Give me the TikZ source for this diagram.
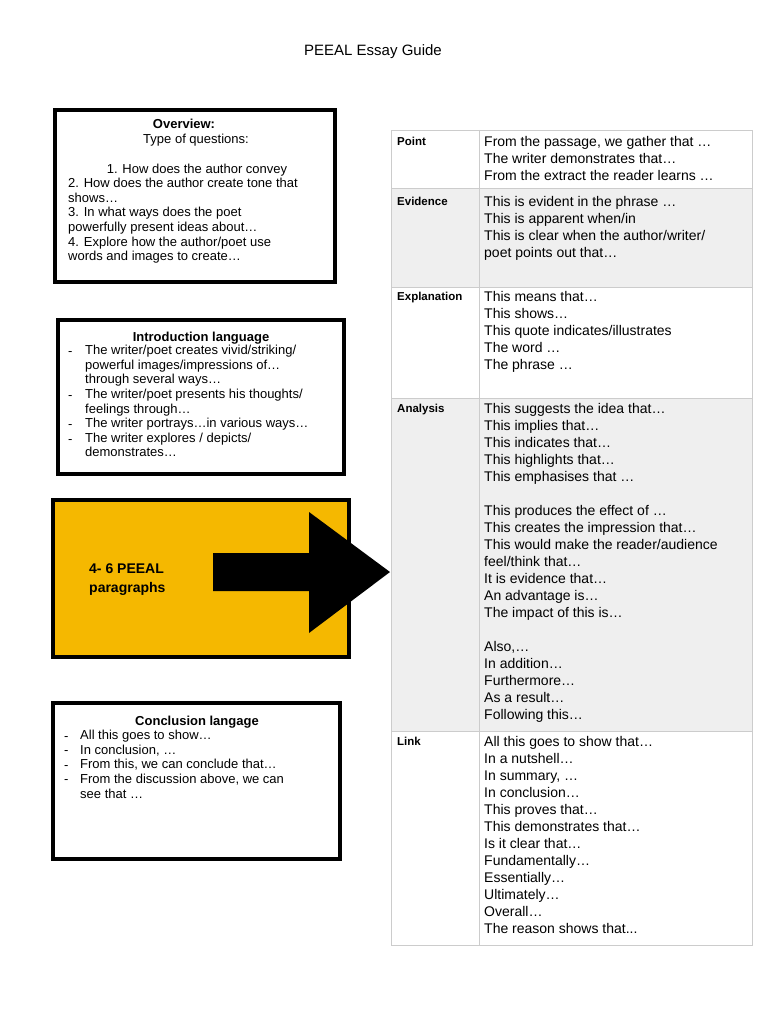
\documentclass[tikz,border=0pt]{standalone}
\usepackage{fontspec}
\setmainfont{Liberation Sans}
\definecolor{cellgray}{HTML}{EFEFEF}
\definecolor{rule}{HTML}{CCCCCC}
\definecolor{gold}{HTML}{F5B800}
\begin{document}
\begin{tikzpicture}[x=1pt,y=-1pt,
  cell/.style={anchor=north west,inner sep=0pt,align=left,font=\fontsize{14}{17}\selectfont},
  lab/.style={anchor=north west,inner sep=0pt,font=\fontsize{11.5}{14}\selectfont\bfseries},
  lt/.style={anchor=north west,inner sep=0pt,align=left,font=\fontsize{13}{14.6}\selectfont},
  ln/.style={anchor=base west,inner sep=0pt,font=\fontsize{13}{14.6}\selectfont},
  ttl/.style={anchor=base,inner sep=0pt,font=\fontsize{13}{14.6}\selectfont\bfseries},
  frame/.style={draw=black,line width=3.5pt}]
\useasboundingbox (0,0) rectangle (768,1024);
\node[anchor=base,font=\fontsize{15}{18}\selectfont] (title) at (373,56) {PEEAL Essay Guide};
% table
\fill[cellgray] (391,188) rectangle (752,287);
\fill[cellgray] (391,398) rectangle (752,731);
\draw[rule,line width=0.8pt] (391,130) rectangle (752,945);
\draw[rule,line width=0.8pt] (479,130) -- (479,945);
\foreach \yy in {188,287,398,731} \draw[rule,line width=0.8pt] (391,\yy) -- (752,\yy);
\node[lab] (lp) at (397,137) {Point};
\node[lab] (le) at (397,197) {Evidence};
\node[lab] (lx) at (397,292) {Explanation};
\node[lab] (la) at (397,404) {Analysis};
\node[lab] (ll) at (397,737) {Link};
\node[cell] (cp) at (484,136) {From the passage, we gather that …\\The writer demonstrates that…\\From the extract the reader learns …};
\node[cell] (ce) at (484,196) {This is evident in the phrase …\\This is apparent when/in\\This is clear when the author/writer/\\poet points out that…};
\node[cell] (cx) at (484,291) {This means that…\\This shows…\\This quote indicates/illustrates\\The word …\\The phrase …};
\node[cell] (ca) at (484,403) {This suggests the idea that…\\This implies that…\\This indicates that…\\This highlights that…\\This emphasises that …\\\mbox{}\\This produces the effect of …\\This creates the impression that…\\This would make the reader/audience\\feel/think that…\\It is evidence that…\\An advantage is…\\The impact of this is…\\\mbox{}\\Also,…\\In addition…\\Furthermore…\\As a result…\\Following this…};
\node[cell] (cl) at (484,736) {All this goes to show that…\\In a nutshell…\\In summary, …\\In conclusion…\\This proves that…\\This demonstrates that…\\Is it clear that…\\Fundamentally…\\Essentially…\\Ultimately…\\Overall…\\The reason shows that...};
% overview
\draw[frame,line width=4.5pt] (55,110) rectangle (335,282);
\node[ttl] (ot) at (184,129) {Overview:};
\node[ln,anchor=base] (o1) at (196,144) {Type of questions:};
\node[ln,anchor=base] (o2) at (197,174) {1. How does the author convey};
\node[lt] (o3) at (68,178) {2. How does the author create tone that\\shows…\\3. In what ways does the poet\\powerfully present ideas about…\\4. Explore how the author/poet use\\words and images to create…};
% intro
\draw[frame] (58,320) rectangle (344,474);
\node[ttl] (it) at (201,341) {Introduction language};
\foreach \yy/\t in {355/{The writer/poet creates vivid/striking/},399/{The writer/poet presents his thoughts/},428/{The writer portrays…in various ways…},443/{The writer explores / depicts/}}
  \node[ln] at (68,\yy) {-};
\node[lt] (ib) at (85,345) {The writer/poet creates vivid/striking/\\powerful images/impressions of…\\through several ways…\\The writer/poet presents his thoughts/\\feelings through…\\The writer portrays…in various ways…\\The writer explores / depicts/\\demonstrates…};
% yellow
\draw[frame,fill=gold] (53,500) rectangle (349,657);
\node[anchor=base west,inner sep=0pt,align=left,font=\fontsize{14}{19}\selectfont\bfseries] (yt) at (89,573) {4- 6 PEEAL};
\node[anchor=base west,inner sep=0pt,font=\fontsize{14}{19}\selectfont\bfseries] (yt2) at (89,592) {paragraphs};
\fill[black] (213,553) -- (309,553) -- (309,512) -- (390,572) -- (309,633) -- (309,591) -- (213,591) -- cycle;
% conclusion
\draw[frame] (53,703) rectangle (340,859);
\node[ttl] (ct) at (197,725) {Conclusion langage};
\foreach \yy in {740,754,769,783} \node[ln] at (64,\yy) {-};
\node[lt] (cb) at (80,730) {All this goes to show…\\In conclusion, …\\From this, we can conclude that…\\From the discussion above, we can\\see that …};
\end{tikzpicture}
\end{document}
